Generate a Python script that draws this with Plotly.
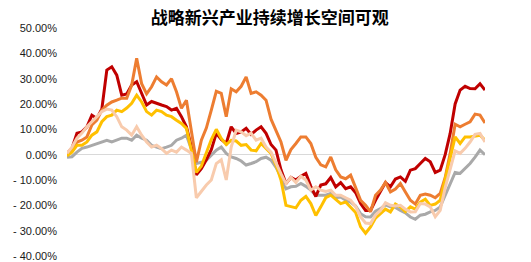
import plotly.graph_objects as go

# ---- data (percent change) ----
days = list(range(85))

series_red = [0.5, 2.5, 8.5, 9, 11, 15.6, 14.3, 18, 33.4, 34.7, 31.4, 23.5, 24, 27.5, 28.8, 24, 19.6, 21, 20.2, 19.6,
              19, 17.6, 18.3, 15, 11, 3, -8, -5.5, -2, 2, 8.4, 6, 4.4, 11, 8.4, 9, 10.4, 8, 9.7, 11,
              8.4, 4, 1.8, -6, -11.4, -9, -10, -8.5, -7.4, -12.5, -16.5, -12, -11.5, -9, -12.7, -11, -13.4, -12.7, -15, -19.3,
              -22, -22, -18, -14.7, -11, -12.7, -9.6, -8.8, -10.5, -6.1, -5.5, -3.5, -1.5, -2.8, -7, -6.1, 0, 8.4, 20, 25.5,
              27, 26.1, 26, 28, 25.5]

series_orange = [0, 1.8, 5, 5.7, 7, 11.7, 13.6, 17.6, 19.5, 20.8, 21.5, 22.3, 22.3, 27.5, 38, 28, 24, 26.8, 30.7, 28.8,
                 27.5, 30, 24.8, 18.3, 21.5, 9.7, -3, 5.7, 10.5, 17.6, 25, 24.2, 15, 26, 24.8, 27, 30.7, 24.2, 24.8, 23.5,
                 21.5, 14, 9.7, 5, -2.2, 2, 4.4, 7, 7, 4.4, -1, -4, -4.8, -0.9, -6, -8.8, -9.5, -8.1, -13, -18,
                 -20, -22.6, -16, -14, -11, -14.7, -13.6, -11.4, -14.7, -18, -19.5, -16, -15.5, -16, -17, -15.3, -9, 0.5, 12, 11,
                 12, 13, 16, 15.6, 12.5]

series_gold = [-0.5, 1, 3.7, 3.7, 5, 7.7, 9, 13, 15, 15.6, 17.6, 17, 18.4, 20.3, 23.5, 20.8, 17, 15.6, 17.6, 17,
               15.6, 15, 13.6, 12.3, 10.4, 1.8, -7, -4.5, 1, 6, 10, 6.4, 4, 5.7, 5.4, 3.7, 4, 1.8, 1.5, 4.4,
               2.5, 0.5, -4, -10, -20, -20.6, -21, -18, -16.5, -19.3, -24, -20.6, -17, -16, -17.8, -19.3, -18.7, -20.6, -22.8, -28.5,
               -31, -28.5, -25, -23.3, -21.5, -22.6, -19.5, -20.6, -22.5, -20.6, -21.5, -18.7, -17.6, -20, -19.5, -18, -10, -0.9, 7, 4.4,
               7, 7, 7.5, 7.7, 5.7]

series_peach = [0.5, 3, 6.5, 8.5, 11, 13, 15, 17, 18, 17.6, 15, 11, 9.7, 7.7, 11, 7.7, 5, 3, 3.7, 2.4,
                0.5, 1.8, 1, 3, 1.8, 0.5, -17, -14.5, -12, -10, -3.5, -2, -10, 3, 9.7, 9, 7.5, 8.5, 5.7, 6.5,
                3, 1, -3.5, -7.5, -11.4, -9, -11, -8.5, -10, -14, -12.7, -14, -14.5, -14, -16, -16, -17, -18, -20.5, -24.6,
                -27, -27.2, -23.8, -22, -19, -20, -20.3, -20, -21.5, -22.6, -22.5, -19.3, -19.5, -20.6, -24.5, -22, -13, -6.1, 1.5, 0.5,
                2.5, 5, 8, 8.4, 5]

series_gray = [-1, -0.8, 1, 2.5, 3, 3.7, 4.5, 5, 5.7, 5, 5.7, 6.5, 6.5, 5.7, 7.7, 6.5, 5.7, 3.7, 3, 2.4,
               3, 3.7, 5.7, 6.5, 7.7, 1.8, -3.5, -3, -2.2, -0.2, 1.8, 3, 0.5, -0.9, -1.5, -2.5, -4.1, -3.5, -2.8, -1.5,
               -1, -2.2, -5, -8.8, -13.5, -12.7, -12.5, -11.4, -12.5, -14, -16, -16, -16, -15.3, -17, -16.7, -18, -18.7, -20.3, -23.3,
               -24.5, -24.6, -22.3, -21.3, -19.8, -20.6, -20.8, -22, -23, -24.6, -25.5, -23.9, -23.5, -22.6, -22, -20.6, -16, -11.4, -7, -7.4,
               -5.5, -3.5, -1, 1.8, 0]

tick_values = [50, 40, 30, 20, 10, 0, -10, -20, -30, -40]
tick_labels = ["50.00%", "40.00%", "30.00%", "20.00%", "10.00%", "0.00%",
               "- 10.00%", "- 20.00%", "- 30.00%", "- 40.00%"]

title_text = "战略新兴产业持续增长空间可观"

# ---- figure ----
fig = go.Figure()
traces = [
    (series_gray, "#A9A9A9"),
    (series_red, "#C00000"),
    (series_orange, "#ED7D31"),
    (series_gold, "#FFC000"),
    (series_peach, "#F8CBAD"),
]
for vals, col in traces:
    fig.add_trace(go.Scatter(x=days, y=vals, mode="lines",
                             line=dict(color=col, width=3),
                             showlegend=False, hoverinfo="skip"))

fig.update_layout(
    width=531, height=262,
    margin=dict(l=67, r=46, t=28, b=6, autoexpand=False),
    paper_bgcolor="white", plot_bgcolor="white",
    title=dict(text="<b>" + title_text + "</b>", x=0.508, xanchor="center",
               y=1 - 18 / 262, yanchor="middle",
               font=dict(family="Noto Sans CJK SC", size=17, color="#000000")),
    xaxis=dict(range=[0, 84], showgrid=False, zeroline=False, showline=False,
               showticklabels=False, ticks="", automargin=False),
    yaxis=dict(range=[-40, 50], showgrid=False, zeroline=True,
               zerolinecolor="#D9D9D9", zerolinewidth=1, showline=False,
               tickmode="array", tickvals=tick_values, ticktext=tick_labels,
               ticks="", ticklabelstandoff=9, automargin=False,
               tickfont=dict(family="Liberation Sans", size=11, color="#1a1a1a")),
)

fig.write_html("out.html")
